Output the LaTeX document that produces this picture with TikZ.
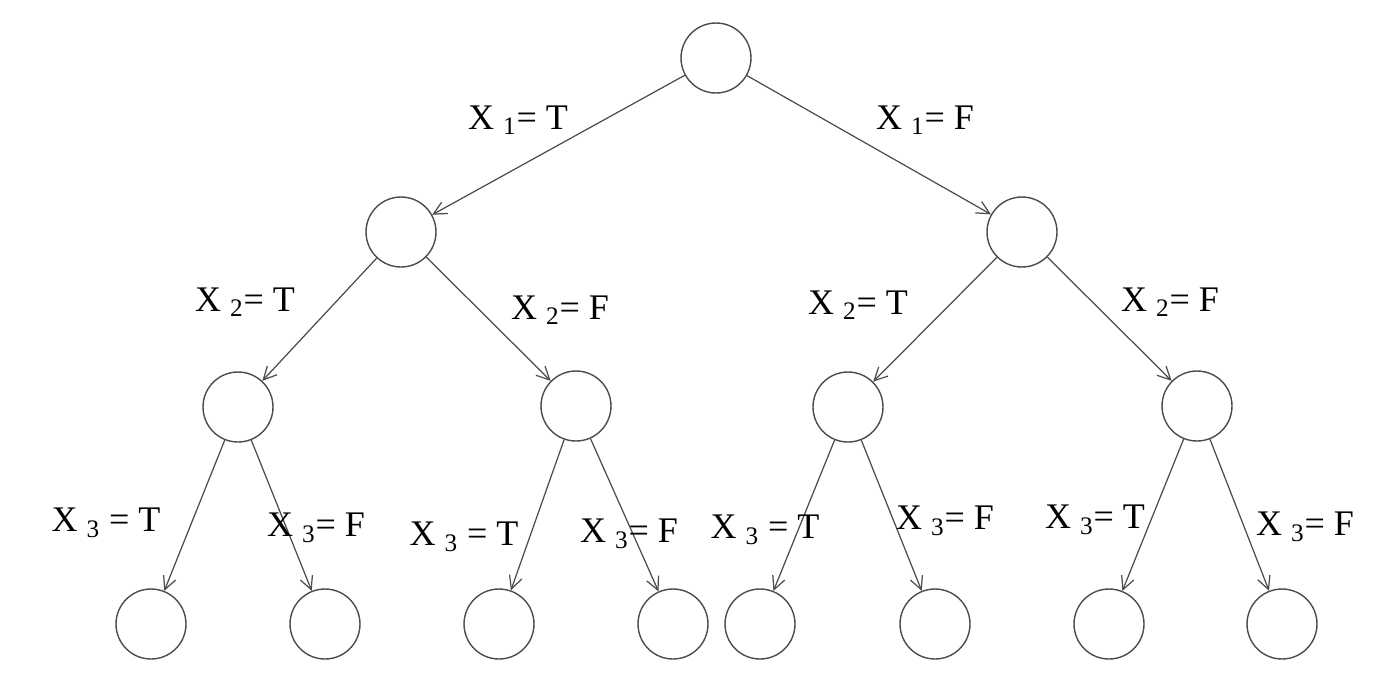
\documentclass[tikz,border=0pt]{standalone}
\usepackage{fontspec}
\setmainfont{Liberation Serif}
\usepackage{tikz}
\usetikzlibrary{arrows.meta}

\begin{document}
\begin{tikzpicture}[
  x=0.02cm, y=-0.02cm,
  state/.style={circle, draw=black!70, line width=0.8pt, minimum size=1.4cm, inner sep=0pt},
  arrow/.style={-{Straight Barb[length=2.6mm,width=2.6mm]}, draw=black!70, line width=0.7pt},
  lbl/.style={font=\fontsize{20.5}{24}\selectfont, inner sep=0pt}
]
\useasboundingbox (0,0) rectangle (1400,674);

% root and first level
\node[state] (root) at (716,58) {};
\node[state] (t) at (401,232) {};
\node[state] (f) at (1022,232) {};

% second level
\node[state] (tt) at (238,407) {};
\node[state] (tf) at (576,406) {};
\node[state] (ft) at (848,407) {};
\node[state] (ff) at (1197,406) {};

% leaves
\node[state] (ttt) at (151,624) {};
\node[state] (ttf) at (325,624) {};
\node[state] (tft) at (499,624) {};
\node[state] (tff) at (673,624) {};
\node[state] (ftt) at (760,624) {};
\node[state] (ftf) at (935,624) {};
\node[state] (fft) at (1109,624) {};
\node[state] (fff) at (1282,624) {};

\draw[arrow] (root) -- (t);
\draw[arrow] (root) -- (f);
\draw[arrow] (t) -- (tt);
\draw[arrow] (t) -- (tf);
\draw[arrow] (f) -- (ft);
\draw[arrow] (f) -- (ff);
\draw[arrow] (tt) -- (ttt);
\draw[arrow] (tt) -- (ttf);
\draw[arrow] (tf) -- (tft);
\draw[arrow] (tf) -- (tff);
\draw[arrow] (ft) -- (ftt);
\draw[arrow] (ft) -- (ftf);
\draw[arrow] (ff) -- (fft);
\draw[arrow] (ff) -- (fff);

% edge labels
\node[lbl] (l1t) at (518,120) {X \textsubscript{1}= T};
\node[lbl] (l1f) at (925,120) {X \textsubscript{1}= F};
\node[lbl] (l2a) at (245,302) {X \textsubscript{2}= T};
\node[lbl] (l2b) at (560,310) {X \textsubscript{2}= F};
\node[lbl] (l2c) at (858,305) {X \textsubscript{2}= T};
\node[lbl] (l2d) at (1170,302) {X \textsubscript{2}= F};
\node[lbl] (l3a) at (106,523) {X \textsubscript{3} = T};
\node[lbl] (l3b) at (316,528) {X \textsubscript{3}= F};
\node[lbl] (l3c) at (464,537) {X \textsubscript{3} = T};
\node[lbl] (l3d) at (629,534) {X \textsubscript{3}= F};
\node[lbl] (l3e) at (765,530) {X \textsubscript{3} = T};
\node[lbl] (l3f) at (945,521) {X \textsubscript{3}= F};
\node[lbl] (l3g) at (1095,520) {X \textsubscript{3}= T};
\node[lbl] (l3h) at (1305,527) {X \textsubscript{3}= F};
\end{tikzpicture}
\end{document}
